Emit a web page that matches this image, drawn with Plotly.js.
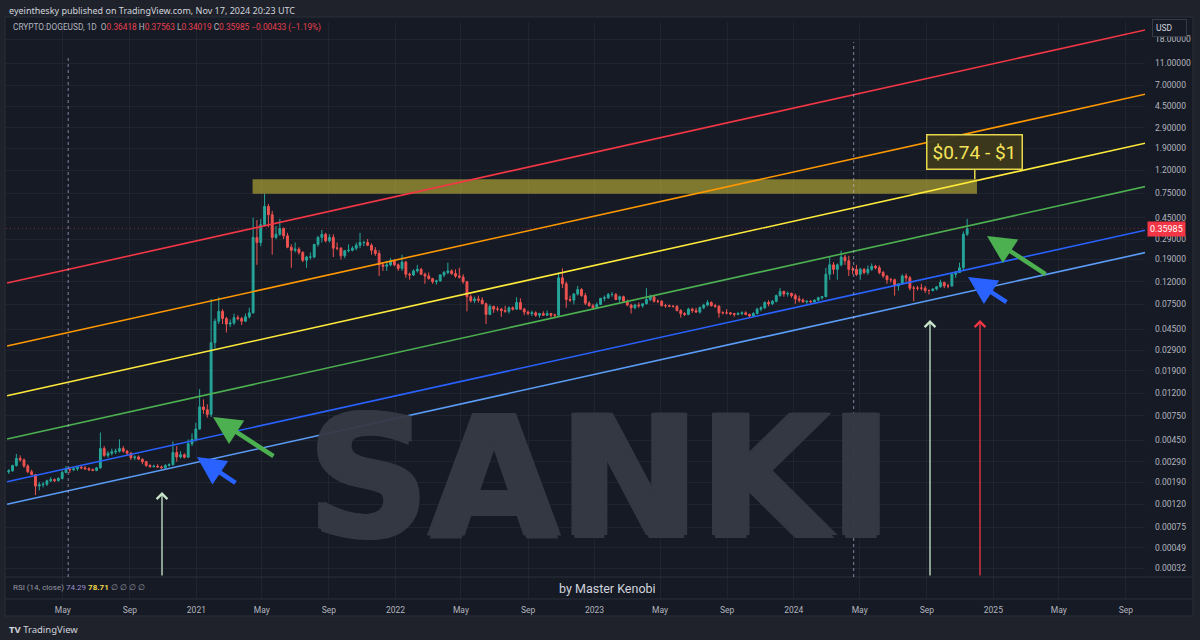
<!DOCTYPE html>
<html>
<head>
<meta charset="utf-8">
<script src="https://cdn.plot.ly/plotly-3.0.1.min.js"></script>
<style>html,body{margin:0;padding:0;background:#1f222b;}#chart{width:1200px;height:640px;}</style>
</head>
<body>
<div id="chart"></div>
<script>
// ---------- DATA (weekly candles) ----------
const firstWeekMid = '2020-01-23';   // Thursday of the first weekly bar
const weekOpen = [
  // 2020
  .00235,.00240,.00268,.00310,.00300,.00265,.00235,.00222,.00175,.00180,.00182,.00195,.00200,.00196,.00205,.00232,.00248,.00245,.00250,.00258,.00255,.00250,.00245,.00242,.00255,.00380,.00330,.00345,.00355,.00360,.00380,.00360,.00345,.00315,.00320,.00305,.00290,.00268,.00262,.00264,.00260,.00256,.00268,.00272,.00350,.00320,.00335,.00318,.00420,.00460,
  // 2021
  .0057,.009,.0085,.0077,.034,.053,.065,.056,.05,.051,.057,.056,.053,.058,.063,.30,.27,.39,.57,.48,.30,.32,.36,.31,.245,.23,.235,.22,.187,.20,.20,.26,.30,.32,.28,.30,.24,.24,.205,.228,.23,.24,.255,.27,.27,.255,.23,.215,.17,.165,.17,.185,
  // 2022
  .17,.158,.18,.14,.138,.15,.155,.14,.135,.128,.12,.122,.138,.145,.15,.142,.135,.132,.12,.088,.081,.084,.082,.076,.061,.072,.068,.068,.066,.065,.07,.068,.078,.068,.064,.062,.063,.06,.062,.06,.062,.06,.06,.13,.115,.083,.082,.093,.102,.09,.077,.073,
  // 2023
  .07,.075,.085,.086,.092,.092,.083,.088,.08,.074,.07,.074,.073,.076,.083,.088,.08,.08,.073,.073,.072,.072,.066,.062,.061,.068,.066,.064,.07,.074,.078,.073,.072,.063,.063,.063,.062,.061,.062,.063,.061,.059,.062,.068,.07,.078,.076,.08,.09,.098,.093,.094,
  // 2024
  .09,.084,.082,.079,.08,.079,.082,.086,.088,.14,.17,.155,.17,.20,.185,.155,.155,.14,.155,.145,.155,.165,.16,.145,.135,.125,.125,.11,.115,.135,.13,.105,.105,.105,.105,.10,.10,.103,.108,.118,.11,.11,.14,.145,.16,.32
];
const weekHigh = [
  .00248,.00272,.00340,.00330,.00310,.00275,.00245,.00225,.00190,.00190,.00200,.00210,.00205,.00210,.00240,.00265,.00260,.00260,.00262,.00270,.00265,.00258,.00252,.00260,.00530,.00400,.00360,.00380,.00380,.00460,.00400,.00370,.00355,.00330,.00330,.00310,.00295,.00275,.00272,.00275,.00268,.00275,.00280,.00440,.00400,.00360,.00345,.00460,.00520,.00650,
  .013,.0105,.0095,.084,.056,.087,.068,.058,.055,.062,.06,.058,.062,.07,.45,.43,.44,.74,.60,.52,.38,.44,.37,.33,.26,.27,.245,.225,.205,.22,.26,.31,.35,.33,.32,.32,.27,.245,.23,.26,.25,.27,.33,.28,.29,.265,.245,.23,.18,.185,.195,.19,
  .175,.21,.185,.145,.155,.17,.16,.145,.145,.13,.125,.14,.15,.178,.155,.155,.16,.14,.122,.092,.088,.09,.087,.078,.075,.073,.072,.07,.073,.072,.072,.087,.085,.07,.066,.066,.065,.063,.065,.066,.063,.062,.145,.158,.12,.09,.095,.11,.105,.095,.08,.076,
  .078,.086,.09,.095,.097,.095,.09,.09,.083,.076,.076,.078,.076,.105,.092,.09,.083,.082,.076,.075,.074,.074,.068,.064,.07,.07,.07,.072,.076,.082,.08,.076,.074,.065,.068,.064,.063,.064,.065,.065,.062,.064,.07,.072,.08,.082,.082,.092,.105,.10,.098,.096,
  .094,.09,.085,.082,.082,.083,.088,.088,.16,.20,.18,.175,.228,.21,.205,.165,.17,.16,.16,.168,.175,.17,.168,.15,.138,.13,.128,.115,.14,.142,.135,.11,.11,.115,.11,.102,.105,.11,.125,.12,.115,.145,.15,.178,.34,.44
];
const weekLow = [
  .00225,.00235,.00262,.00290,.00255,.00228,.00220,.00145,.00160,.00170,.00175,.00190,.00190,.00192,.00200,.00228,.00230,.00238,.00240,.00248,.00245,.00240,.00238,.00238,.00250,.00320,.00315,.00330,.00340,.00350,.00350,.00335,.00300,.00300,.00300,.00275,.00260,.00255,.00256,.00255,.00250,.00250,.00262,.00268,.00290,.00310,.00310,.00315,.00400,.00440,
  .0056,.0078,.0072,.0073,.03,.05,.05,.042,.047,.049,.054,.049,.052,.056,.062,.17,.25,.38,.37,.21,.29,.31,.29,.24,.16,.22,.21,.18,.16,.19,.195,.248,.27,.27,.27,.20,.23,.19,.195,.22,.225,.23,.24,.25,.25,.21,.205,.135,.15,.15,.165,.165,
  .15,.15,.13,.125,.135,.145,.138,.115,.125,.115,.113,.12,.132,.14,.138,.13,.128,.115,.065,.078,.077,.078,.075,.05,.06,.063,.065,.058,.063,.062,.066,.067,.067,.06,.06,.059,.058,.057,.059,.059,.057,.057,.059,.105,.07,.079,.075,.09,.088,.074,.072,.068,
  .068,.074,.08,.084,.088,.082,.078,.078,.072,.062,.068,.07,.07,.075,.08,.078,.077,.072,.07,.071,.07,.065,.057,.059,.06,.063,.063,.062,.068,.072,.072,.07,.057,.061,.061,.06,.058,.06,.06,.06,.057,.058,.061,.065,.068,.072,.074,.078,.088,.088,.088,.086,
  .076,.078,.078,.076,.078,.078,.08,.083,.087,.125,.14,.125,.165,.17,.135,.14,.135,.125,.14,.138,.15,.155,.14,.13,.115,.118,.09,.10,.112,.12,.10,.08,.10,.10,.095,.092,.098,.10,.106,.105,.105,.108,.13,.145,.152,.31
];
const weekClose = [
  .00240,.00268,.00310,.00300,.00265,.00235,.00222,.00175,.00180,.00182,.00195,.00200,.00196,.00205,.00232,.00248,.00245,.00250,.00258,.00255,.00250,.00245,.00242,.00255,.00380,.00330,.00345,.00355,.00360,.00380,.00360,.00345,.00315,.00320,.00305,.00290,.00268,.00262,.00264,.00260,.00256,.00268,.00272,.00350,.00320,.00335,.00318,.00420,.00460,.00570,
  .009,.0085,.0077,.034,.053,.065,.056,.05,.051,.057,.056,.053,.058,.063,.30,.27,.39,.57,.48,.30,.32,.36,.31,.245,.23,.235,.22,.187,.20,.20,.26,.30,.32,.28,.30,.24,.24,.205,.228,.23,.24,.255,.27,.27,.255,.23,.215,.17,.165,.17,.185,.17,
  .158,.18,.14,.138,.15,.155,.14,.135,.128,.12,.122,.138,.145,.15,.142,.135,.132,.12,.088,.081,.084,.082,.076,.061,.072,.068,.068,.066,.065,.07,.068,.078,.068,.064,.062,.063,.06,.062,.06,.062,.06,.06,.13,.115,.083,.082,.093,.102,.09,.077,.073,.07,
  .075,.085,.086,.092,.092,.083,.088,.08,.074,.07,.074,.073,.076,.083,.088,.08,.08,.073,.073,.072,.072,.066,.062,.061,.068,.066,.064,.07,.074,.078,.073,.072,.063,.063,.063,.062,.061,.062,.063,.061,.059,.062,.068,.07,.078,.076,.08,.09,.098,.093,.094,.09,
  .084,.082,.079,.08,.079,.082,.086,.088,.14,.17,.155,.17,.20,.185,.155,.155,.14,.155,.145,.155,.165,.16,.145,.135,.125,.125,.11,.115,.135,.13,.105,.105,.105,.105,.10,.10,.103,.108,.118,.11,.11,.14,.145,.16,.32,.35985
];

// Last daily bar shown in the legend
const lastDayOHLC = [0.36418, 0.37563, 0.34019, 0.35985];
const lastDayChange = [-0.00433, -1.19];

// Parallel log-channel lines (start / end dates and prices)
const trendNames  = ['red', 'orange', 'yellow', 'green', 'blue', 'lightblue'];
const trendDates  = ['2020-01-20', '2025-10-14'];
const trendStart  = [0.1168, 0.03172, 0.01134, 0.004632, 0.001915, 0.0012];
const trendEnd    = [22.37, 5.913, 2.146, 0.8744, 0.3548, 0.2233];

// Target zone
const zoneDates = ['2021-04-14', '2024-12-02'];
const zoneLow = 0.74, zoneHigh = 1.0;
const zoneLabel = '$0.74 - $1';

// Halving markers
const halvingDates = ['2020-05-11', '2024-04-20'];

// Axis ticks
const priceTicks = [0.00032,0.00049,0.00075,0.0012,0.0019,0.0029,0.0045,0.0075,0.012,0.019,0.029,0.045,0.075,0.12,0.19,0.29,0.45,0.75,1.2,1.9,2.9,4.5,7,11,18];
const timeTickDates = ['2020-05-01','2020-09-01','2021-01-01','2021-05-01','2021-09-01','2022-01-01','2022-05-01','2022-09-01','2023-01-01','2023-05-01','2023-09-01','2024-01-01','2024-05-01','2024-09-01','2025-01-01','2025-05-01','2025-09-01'];
const timeTickLabels = ['May','Sep','2021','May','Sep','2022','May','Sep','2023','May','Sep','2024','May','Sep','2025','May','Sep'];

// ---------- STYLE ----------
const trendColors = ['#f23645','#ff9800','#ffeb3b','#4caf50','#2962ff','#5b9cf6'];
const xRange = ['2020-01-18', '2025-10-06'];
const W = 1200, H = 640;
const px = v => v / W;
const py = v => 1 - v / H;

const weekDates = weekClose.map((_, i) => {
  const d = new Date(Date.parse(firstWeekMid + 'T00:00:00Z') + i * 7 * 86400000);
  return d.toISOString().slice(0, 10);
});
const lastClose = weekClose[weekClose.length - 1];

const traces = [];
// zone box
traces.push({
  type: 'scatter', mode: 'lines',
  x: [zoneDates[0], zoneDates[1], zoneDates[1], zoneDates[0], zoneDates[0]],
  y: [zoneLow, zoneLow, zoneHigh, zoneHigh, zoneLow],
  fill: 'toself', fillcolor: 'rgba(255,235,59,0.45)',
  line: {width: 0, color: 'rgba(0,0,0,0)'}, hoverinfo: 'skip', showlegend: false
});
// channel lines
trendNames.forEach((n, i) => {
  traces.push({
    type: 'scatter', mode: 'lines', name: n,
    x: trendDates, y: [trendStart[i], trendEnd[i]],
    line: {color: trendColors[i], width: 1.6}, hoverinfo: 'skip', showlegend: false
  });
});
// last price dotted line
traces.push({
  type: 'scatter', mode: 'lines', x: xRange, y: [lastClose, lastClose],
  line: {color: 'rgba(242,54,69,0.5)', width: 1, dash: '1px,3px'}, hoverinfo: 'skip', showlegend: false
});
// candles
traces.push({
  type: 'candlestick', x: weekDates,
  open: weekOpen, high: weekHigh, low: weekLow, close: weekClose,
  increasing: {line: {color: '#26a69a', width: 1}, fillcolor: '#26a69a'},
  decreasing: {line: {color: '#ef5350', width: 1}, fillcolor: '#ef5350'},
  hoverinfo: 'skip', showlegend: false
});
// RSI pane placeholder
traces.push({
  type: 'scatter', mode: 'markers', x: [xRange[0]], y: [50], xaxis: 'x', yaxis: 'y2',
  marker: {opacity: 0}, hoverinfo: 'skip', showlegend: false
});

const red = '#e8414f';
const sp = '&nbsp;';
const legendText =
  'CRYPTO:DOGEUSD, 1D' + sp + sp + 'O<span style="color:' + red + '">' + lastDayOHLC[0].toFixed(5) + '</span>' +
  sp + 'H<span style="color:' + red + '">' + lastDayOHLC[1].toFixed(5) + '</span>' +
  sp + 'L<span style="color:' + red + '">' + lastDayOHLC[2].toFixed(5) + '</span>' +
  sp + 'C<span style="color:' + red + '">' + lastDayOHLC[3].toFixed(5) + '</span>' +
  sp + '<span style="color:' + red + '">\u2212' + Math.abs(lastDayChange[0]).toFixed(5) +
  ' (\u2212' + Math.abs(lastDayChange[1]).toFixed(2) + '%)</span>';

const fatArrow = (tipX, tipY, tailX, tailY, color) => ({
  xref: 'paper', yref: 'paper', x: px(tipX), y: py(tipY), ax: tailX - tipX, ay: tailY - tipY,
  text: '', showarrow: true, arrowhead: 2, arrowsize: 1.25, arrowwidth: 4.5, arrowcolor: color
});
const thinArrow = (x, tipY, tailY, color) => ({
  xref: 'paper', yref: 'paper', x: px(x), y: py(tipY), ax: 0, ay: tailY - tipY,
  text: '', showarrow: true, arrowhead: 4, arrowsize: 1.6, arrowwidth: 1.3, arrowcolor: color
});

const annotations = [
  // watermark
  {xref: 'paper', yref: 'paper', x: px(600), y: py(477), xanchor: 'center', yanchor: 'middle',
   text: '<b>SANKI</b>', showarrow: false,
   font: {family: 'DejaVu Sans', size: 168, color: '#363a45',
          shadow: '3px 0 0 #363a45, -3px 0 0 #363a45, 0 3px 0 #363a45'}, opacity: 0.95},
  // header
  {xref: 'paper', yref: 'paper', x: px(7), y: py(10), xanchor: 'left', yanchor: 'middle', showarrow: false,
   text: 'eyeinthesky published on TradingView.com, Nov 17, 2024 20:23 UTC',
   font: {family: 'Noto Sans, Roboto', size: 9, color: '#d1d4dc'}},
  // legend
  {xref: 'paper', yref: 'paper', x: px(11), y: py(27), xanchor: 'left', yanchor: 'middle', showarrow: false,
   text: legendText, font: {family: 'Roboto', size: 8.3, color: '#b2b5be'}},
  // USD box
  {xref: 'paper', yref: 'paper', x: px(1152), y: py(28), xanchor: 'left', yanchor: 'middle', showarrow: false,
   text: 'USD&nbsp;&nbsp;&nbsp;&nbsp;&nbsp;', bgcolor: '#161a25', bordercolor: '#363a45', borderwidth: 1, borderpad: 3,
   font: {family: 'Roboto', size: 8.5, color: '#d1d4dc'}},
  // last price label
  {xref: 'paper', yref: 'y', x: px(1147), y: Math.log10(lastClose), xanchor: 'left', yanchor: 'middle', showarrow: false,
   text: lastClose.toFixed(5), bgcolor: '#f23645', borderpad: 2,
   font: {family: 'Roboto', size: 9, color: '#ffffff'}},
  // zone callout
  {xref: 'x', yref: 'y', x: '2024-11-28', y: Math.log10(zoneHigh), ax: 0, ay: -27,
   text: zoneLabel, showarrow: true, arrowhead: 0, arrowwidth: 1.5, arrowcolor: '#e6d64a',
   bgcolor: 'rgba(60,57,28,0.95)', bordercolor: '#e6d64a', borderwidth: 1.5, borderpad: 5,
   font: {family: 'Roboto', size: 19, color: '#f5e45a'}},
  // fat arrows
  fatArrow(213, 417, 275, 457, '#4caf50'),
  fatArrow(197, 457, 237, 484, '#2962ff'),
  fatArrow(987, 236, 1047, 275, '#4caf50'),
  fatArrow(968, 277, 1008, 303, '#2962ff'),
  // thin arrows
  thinArrow(162, 492, 577, '#c8e6c9'),
  thinArrow(930, 320, 577, '#c8e6c9'),
  thinArrow(980, 320, 577, '#f23645'),
  // RSI label
  {xref: 'paper', yref: 'paper', x: px(11), y: py(587), xanchor: 'left', yanchor: 'middle', showarrow: false,
   text: 'RSI (14, close)' + sp + '<span style="color:#9a8fc8">74.29</span>' + sp + '<span style="color:#f2d84b"><b>78.71</b></span>' + sp + '\u2205 \u2205 \u2205 \u2205',
   font: {family: 'Roboto', size: 8, color: '#9598a1'}},
  // author
  {xref: 'paper', yref: 'paper', x: px(607), y: py(588), xanchor: 'center', yanchor: 'middle', showarrow: false,
   text: 'by Master Kenobi', font: {family: 'Roboto', size: 12.5, color: '#d1d4dc'}},
  // footer logo
  {xref: 'paper', yref: 'paper', x: px(7), y: py(629), xanchor: 'left', yanchor: 'middle', showarrow: false,
   text: '<b>TV</b> TradingView', font: {family: 'Noto Sans, Roboto', size: 9.5, color: '#d1d4dc'}}
];

const shapes = [
  {type: 'rect', xref: 'paper', yref: 'paper', x0: px(5), x1: px(1193), y0: py(616), y1: py(17),
   fillcolor: '#161a25', line: {color: '#2a2e39', width: 1}, layer: 'below'},
  {type: 'line', xref: 'paper', yref: 'paper', x0: px(5), x1: px(1193), y0: py(577), y1: py(577),
   line: {color: '#2a2e39', width: 1}, layer: 'below'},
  {type: 'line', xref: 'paper', yref: 'paper', x0: px(5), x1: px(1193), y0: py(599), y1: py(599),
   line: {color: '#2a2e39', width: 1}, layer: 'below'},
  {type: 'line', xref: 'x', yref: 'paper', x0: halvingDates[0], x1: halvingDates[0], y0: py(577), y1: py(55),
   line: {color: 'rgba(190,190,225,0.65)', width: 1, dash: '3px,3px'}, layer: 'above'},
  {type: 'line', xref: 'x', yref: 'paper', x0: halvingDates[1], x1: halvingDates[1], y0: py(577), y1: py(42),
   line: {color: 'rgba(190,190,225,0.65)', width: 1, dash: '3px,3px'}, layer: 'above'}
];

const layout = {
  width: W, height: H,
  margin: {l: 0, r: 0, t: 0, b: 0},
  paper_bgcolor: '#1f222b', plot_bgcolor: '#161a25',
  showlegend: false, hovermode: false,
  font: {family: 'Roboto, sans-serif', color: '#b2b5be'},
  xaxis: {
    type: 'date', domain: [px(6), px(1145)], range: xRange, anchor: 'y2',
    tickvals: timeTickDates, ticktext: timeTickLabels,
    tickfont: {size: 8.5, color: '#b2b5be'}, ticks: '', ticklabelstandoff: 4,
    showgrid: true, gridcolor: 'rgba(42,46,57,0.55)', gridwidth: 1,
    zeroline: false, showline: false, rangeslider: {visible: false}, fixedrange: true
  },
  yaxis: {
    type: 'log', domain: [py(577), py(22)], range: [-3.574, 1.4125], side: 'right', anchor: 'x',
    tickvals: priceTicks, ticktext: priceTicks.map(v => v.toFixed(5)),
    tickfont: {size: 8.5, color: '#b2b5be'}, ticks: '', ticklabelstandoff: 9,
    showgrid: true, gridcolor: 'rgba(42,46,57,0.55)', gridwidth: 1,
    zeroline: false, showline: false, fixedrange: true
  },
  yaxis2: {
    domain: [py(599), py(577)], range: [0, 100], anchor: 'x',
    showticklabels: false, showgrid: false, zeroline: false, showline: false, fixedrange: true
  },
  shapes: shapes,
  annotations: annotations
};

Plotly.newPlot('chart', traces, layout, {displayModeBar: false, staticPlot: true});
</script>
</body>
</html>
